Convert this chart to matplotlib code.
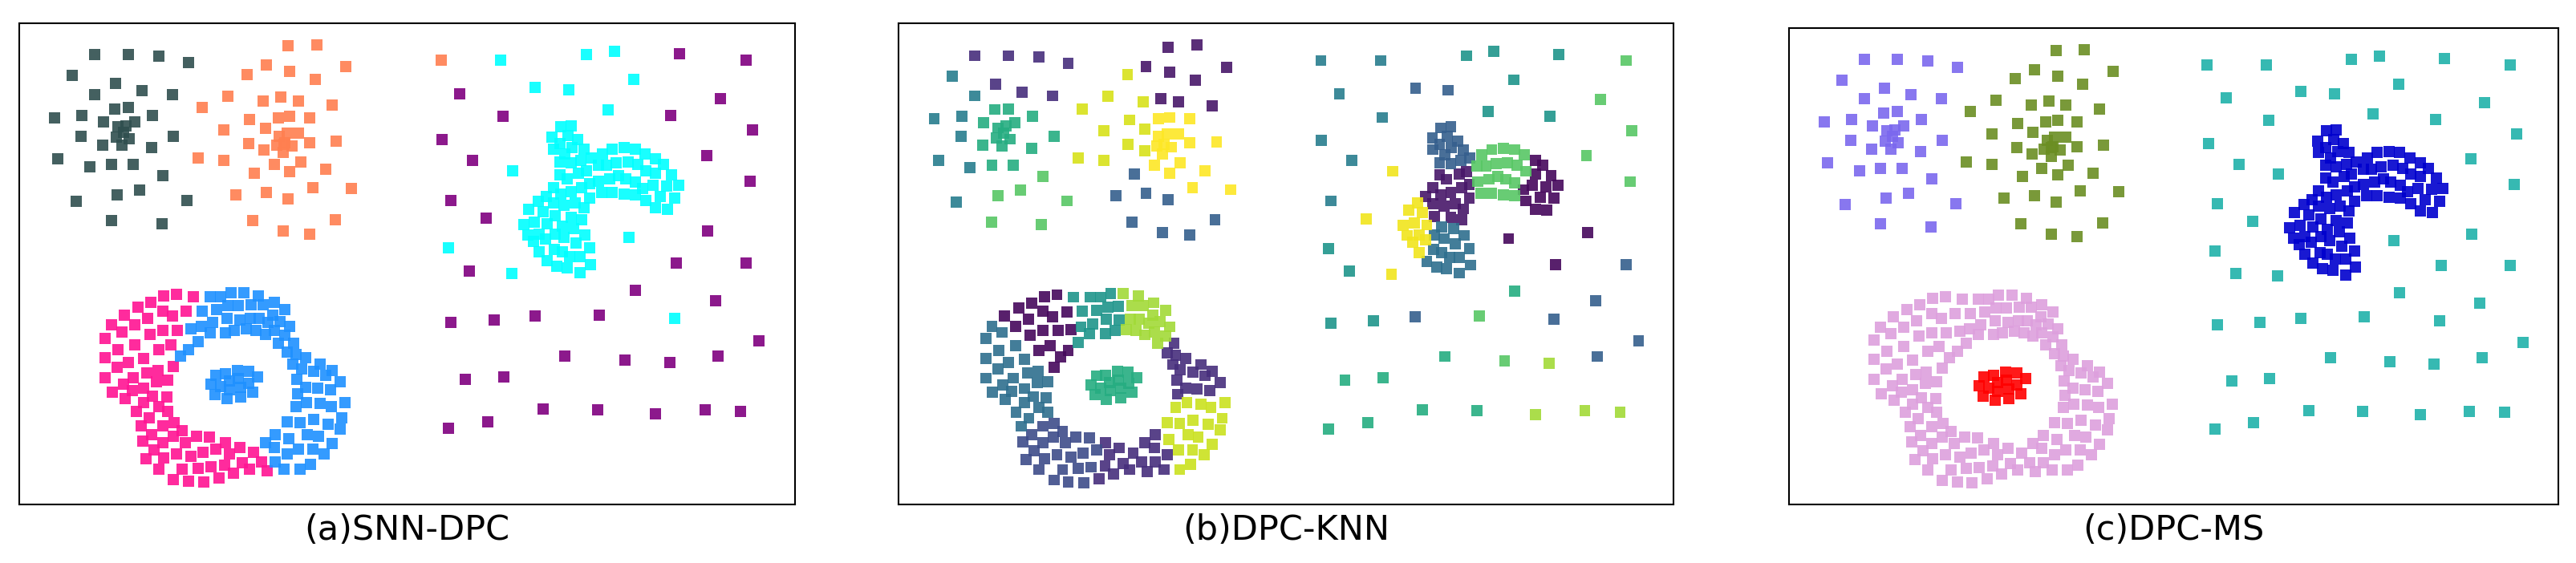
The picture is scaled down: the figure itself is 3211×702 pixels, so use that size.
import numpy as np
import matplotlib
matplotlib.use("Agg")
import matplotlib.pyplot as plt

# ---- shared point groups (panel (a)/(c) scale) ----
blob1 = [(355,205),(481,205),(595,211),(706,235),(271,283),(433,313),(532,340),(355,355),(646,355),(429,409),(481,403),(204,442),(307,433),(571,433),(388,457),(505,457),(442,475),(472,472),(462,496),(436,514),(484,520),(304,510),(649,510),(385,544),(457,544),(568,553),(217,595),(337,625),(418,616),(499,616),(610,658),(439,730),(523,712),(285,754),(700,751),(418,826),(606,838)]
blob2 = [(1078,172),(1185,168),(997,244),(925,279),(1084,268),(1294,250),(1180,298),(853,361),(985,379),(1051,364),(1117,379),(757,403),(1243,394),(934,448),(1041,442),(1084,436),(1159,442),(993,481),(838,486),(1045,510),(1074,499),(1117,499),(931,538),(1035,544),(1066,535),(1093,547),(1159,534),(1258,529),(988,562),(1060,571),(1062,540),(742,592),(838,601),(1026,616),(1126,605),(1218,634),(952,649),(1084,643),(883,730),(997,721),(1078,745),(1169,703),(1314,706),(945,826),(1060,865),(1159,876),(1255,823)]
bg_orange = [(1649,226)]
bg_cyan = [(1873,226),(2194,205),(2299,192),(2371,298),(2002,327),(2128,337),(2275,412),(1918,640),(2353,889),(1678,928),(1915,1024),(2524,1192)]
bg_purple = [(2542,202),(2791,226),(1720,351),(2695,370),(1882,436),(2509,433),(2815,486),(1653,523),(2644,582),(1768,601),(2806,679),(1687,751),(1819,817),(2647,865),(2530,985),(2791,985),(1756,1015),(2375,1087),(2677,1126),(1687,1207),(1849,1198),(2002,1183),(2242,1179),(2839,1276),(2113,1333),(2338,1348),(2505,1357),(2686,1333),(1741,1420),(1885,1411),(2032,1531),(2236,1534),(2452,1549),(2638,1534),(2770,1540),(1825,1579),(1678,1603)]
moon = [(2098,475),(2135,472),(2065,514),(2125,508),(2161,523),(2095,538),(2070,557),(2140,553),(2184,557),(2113,577),(2210,592),(2254,577),(2290,557),(2335,553),(2375,557),(2413,577),(2452,595),(2095,606),(2136,610),(2173,601),(2239,619),(2269,619),(2305,610),(2350,606),(2386,616),(2482,616),(2416,640),(2452,649),(2512,655),(2095,655),(2122,669),(2164,649),(2194,640),(2313,658),(2280,669),(2341,669),(2239,679),(2206,688),(2376,682),(2443,693),(2494,697),(2538,693),(2070,703),(2176,703),(2404,706),(2044,736),(2098,727),(2135,716),(2250,721),(2290,721),(2335,727),(2376,730),(2470,736),(2524,741),(2206,741),(2014,754),(2070,760),(2110,769),(2151,760),(2184,778),(2416,751),(2452,778),(2497,784),(1978,784),(2032,793),(2077,808),(2135,814),(2176,823),(1999,832),(2047,838),(1959,841),(2103,847),(2146,856),(2017,875),(2077,875),(1974,880),(2110,889),(2188,880),(2041,895),(1996,904),(2155,910),(2074,934),(2206,928),(2017,943),(2103,943),(2131,961),(2170,961),(2047,976),(2209,991),(2083,997),(2122,1003),(2170,1021)]
ring_pink = [(613,1107),(661,1102),(724,1111),(565,1131),(517,1150),(610,1165),(697,1165),(466,1179),(646,1183),(553,1192),(418,1216),(505,1216),(457,1242),(610,1237),(664,1237),(562,1252),(394,1266),(505,1290),(638,1290),(442,1309),(595,1309),(394,1338),(538,1342),(481,1357),(439,1375),(649,1371),(590,1387),(550,1396),(499,1414),(394,1414),(628,1423),(586,1429),(462,1438),(538,1453),(495,1462),(421,1468),(571,1483),(625,1486),(469,1492),(538,1507),(595,1520),(510,1540),(628,1540),(558,1564),(529,1594),(610,1594),(652,1582),(682,1612),(568,1627),(649,1631),(735,1631),(783,1636),(535,1651),(610,1656),(694,1656),(844,1656),(897,1675),(808,1680),(577,1684),(760,1693),(661,1699),(859,1699),(949,1693),(715,1708),(613,1714),(547,1717),(979,1729),(907,1732),(841,1741),(790,1747),(742,1752),(595,1756),(682,1756),(934,1756),(1000,1762),(874,1771),(820,1789),(649,1795),(706,1801),(763,1804)]
ring_blue = [(787,1111),(826,1111),(863,1096),(912,1096),(967,1107),(1026,1131),(853,1144),(892,1144),(940,1141),(985,1141),(757,1165),(811,1159),(1066,1159),(1021,1179),(849,1192),(897,1198),(937,1192),(970,1192),(1003,1207),(1048,1204),(796,1207),(754,1222),(715,1231),(1084,1222),(877,1237),(922,1231),(958,1237),(1026,1237),(787,1246),(844,1246),(993,1252),(1066,1255),(742,1279),(1041,1285),(1099,1285),(706,1309),(1074,1318),(1108,1327),(676,1333),(1144,1338),(1096,1362),(1198,1362),(1127,1381),(1243,1387),(1174,1390),(1217,1405),(1111,1420),(1273,1429),(1144,1448),(1189,1453),(1237,1459),(1114,1474),(1147,1507),(1198,1510),(1291,1507),(1108,1521),(1240,1521),(1174,1568),(1279,1564),(1073,1579),(1122,1582),(1228,1588),(1273,1606),(1030,1627),(1150,1627),(1192,1631),(1081,1642),(993,1656),(1243,1660),(1026,1675),(1117,1680),(1169,1680),(1073,1699),(1213,1699),(1030,1729),(1162,1738),(1063,1756),(1122,1756)]
core = [(808,1405),(844,1399),(889,1387),(931,1390),(964,1411),(858,1426),(892,1417),(789,1438),(826,1447),(931,1435),(901,1450),(859,1459),(805,1477),(945,1468),(849,1492),(901,1486)]

# ---- panel (b) clusters: each has a colour value and its points ----
b_values = [0.02, 0.06, 0.13, 0.23, 0.30, 0.36, 0.42, 0.52, 0.62, 0.74, 0.86, 0.92, 0.94, 0.98, 1.0]
b_clusters = [
 [(316,803),(341,798),(291,822),(266,835),(314,846),(360,847),(238,858),(333,862),(285,869),(260,888),(314,901),(343,901),(369,898),(289,914),(328,943),(305,958),(363,958),(348,976),(335,1005),(1276,413),(1291,427),(1276,453),(1307,456),(1321,485),(1270,485),(1297,489),(1253,497),(1257,529),(1286,519),(1312,522),(1276,553),(1298,555),(1224,637),(1379,619),(1316,711)],
 [(558,88),(614,83),(515,144),(562,161),(672,146),(612,183),(544,236),(579,246),(645,257),(1089,455),(1103,467),(1127,452),(1142,445),(1076,492),(1132,492),(1147,482),(1062,517),(1092,511),(1111,504),(1147,522),(1076,537),(1097,544),(1119,537),(1135,552),(1079,574),(1111,577),(1132,584)],
 [(180,113),(246,113),(305,117),(363,135),(221,194),(273,217),(333,228),(570,938),(556,964),(573,972),(592,981),(622,998),(568,998),(582,1013),(645,1017),(607,1020),(630,1030),(660,1049),(576,1042),(592,1065),(615,1068),(640,1072),(577,1083),(533,1200),(513,1223),(436,1223),(531,1237),(463,1237),(490,1252),(444,1256),(556,1256),(470,1281),(506,1278),(533,1278),(435,1289),(483,1299),(550,1299),(517,1304),(452,1311),(423,1326)],
 [(336,1167),(314,1175),(352,1190),(292,1200),(334,1205),(378,1205),(404,1208),(275,1219),(313,1223),(358,1223),(296,1244),(341,1256),(392,1252),(418,1242),(369,1263),(281,1271),(316,1267),(305,1299),(352,1299),(383,1296),(408,1292),(335,1329),(363,1334),(394,1336)],
 [(1092,320),(1111,316),(1075,349),(1104,345),(1124,357),(1089,368),(1076,382),(1112,377),(1135,383),(1099,396),(1089,420),(1111,423),(1130,413),(1148,407),(1042,206),(1106,212),(492,452),(456,515),(515,507),(558,526),(488,589),(547,619),(600,626),(650,584),(1041,861),(1313,869),(1394,816),(1478,931),(1397,975),(1453,711)],
 [(1093,603),(1117,609),(1079,626),(1137,628),(1097,637),(1120,652),(1077,669),(1147,666),(1093,677),(1109,692),(1128,692),(1064,703),(1149,713),(1084,718),(1103,724),(1128,736),(214,888),(234,906),(202,924),(260,943),(227,958),(202,980),(277,983),(246,993),(225,1010),(304,1017),(283,1023),(302,1049),(323,1047),(202,1037),(256,1037),(235,1056),(253,1075),(277,1067),(215,1078),(294,1090),(320,1094),(240,1097),(277,1108),(305,1120),(323,1134),(261,1134),(286,1152),(271,1175)],
 [(857,127),(974,127),(893,223),(977,290),(858,356),(918,414),(876,529),(136,172),(180,228),(155,286),(101,293),(153,345),(109,412),(171,433),(144,533)],
 [(1142,113),(1195,101),(1322,109),(1234,182),(1184,272),(1305,286),(872,666),(912,731),(960,872),(876,879),(373,805),(406,805),(427,805),(446,795),(441,833),(461,832),(390,846),(419,842),(438,869),(463,871),(411,881),(388,890),(405,909),(436,909),(454,901),(383,935)],
 [(219,267),(246,265),(293,286),(198,305),(259,305),(241,315),(226,320),(236,335),(249,352),(223,349),(335,345),(196,370),(234,372),(292,378),(214,426),(256,426),(418,1030),(436,1028),(460,1017),(480,1020),(497,1036),(408,1057),(427,1065),(461,1042),(482,1052),(444,1050),(416,1085),(445,1072),(465,1065),(488,1078),(438,1098),(465,1093),(904,1042),(979,1036),(1056,1127),(1162,1131),(949,1164),(872,1182),(1099,975),(1236,787)],
 [(313,460),(269,499),(225,515),(361,529),(213,589),(311,596),(1172,397),(1191,382),(1214,378),(1236,382),(1255,397),(1162,430),(1180,430),(1199,423),(1222,419),(1240,426),(1257,444),(1164,474),(1185,467),(1203,460),(1218,467),(1236,478),(1170,507),(1191,507),(1214,511),(1236,515),(1453,127),(1404,239),(1465,327),(1376,400),(1461,474),(1216,987),(1166,858)],
 [(471,795),(500,802),(530,821),(487,828),(510,828),(553,843),(529,857),(485,868),(502,868),(520,880),(543,875),(562,890),(477,898),(496,901),(513,913),(531,905),(553,916),(538,938),(1276,1141),(1373,1130),(1442,1135),(1303,994)],
 [(573,1120),(595,1108),(622,1112),(642,1120),(670,1108),(664,1152),(556,1164),(581,1167),(607,1157),(637,1170),(660,1186),(597,1200),(617,1205),(560,1212),(645,1226),(579,1242),(606,1242),(629,1256),(602,1285),(581,1299)],
 [(479,168),(440,230),(510,246),(391,265),(483,297),(513,323),(433,327),(480,367),(383,407),(433,414),(512,385)],
 [(1046,534),(1028,555),(1056,563),(1018,600),(1040,592),(1064,598),(1026,628),(1049,626),(1061,640),(1037,648),(1049,677),(997,444),(945,581),(995,740)],
 [(539,293),(562,290),(600,293),(556,338),(540,345),(579,338),(653,360),(600,363),(536,371),(550,368),(565,375),(547,395),(531,426),(582,419),(630,442),(562,449),(606,492),(681,497)],
]

panel_a = [(blob1,'#2f4f4f'),(blob2,'#ff7f50'),(bg_orange,'#ff7f50'),(bg_cyan,'#00ffff'),(moon,'#00ffff'),
           (bg_purple,'#800080'),(ring_pink,'#ff1493'),(ring_blue,'#1e90ff'),(core,'#1e90ff')]
panel_c = [(blob1,'#7b68ee'),(blob2,'#6b8e23'),(bg_orange,'#20b2aa'),(bg_cyan,'#20b2aa'),(bg_purple,'#20b2aa'),
           (moon,'#0000cd'),(ring_pink,'#dda0dd'),(ring_blue,'#dda0dd'),(core,'#ff0000')]
titles = ['(a)SNN-DPC', '(b)DPC-KNN', '(c)DPC-MS']

W, H = 3212, 702
fig = plt.figure(figsize=(W/100, H/100), dpi=100)

def add_axes(l, r, t, b, xlim, ylim, title):
    ax = fig.add_axes([l/W, 1-b/H, (r-l)/W, (b-t)/H])
    ax.set_xlim(*xlim); ax.set_ylim(*ylim)
    ax.set_xticks([]); ax.set_yticks([])
    for s in ax.spines.values():
        s.set_linewidth(1.5)
    ax.set_xlabel(title, fontsize=31, labelpad=8)
    return ax

MS = 100
AL = 0.9
lim_x, lim_y = (72, 2973), (1887, 87)

ax = add_axes(24, 991, 29, 629, lim_x, lim_y, titles[0])
for pts, col in panel_a:
    p = np.array(pts)
    ax.scatter(p[:,0], p[:,1], s=MS, marker='s', c=col, alpha=AL, linewidths=0)

ax = add_axes(1120.5, 2086.5, 29, 629, (32, 1547), (1399, 20), titles[1])
for val, pts in zip(b_values, b_clusters):
    p = np.array(pts)
    ax.scatter(p[:,0], p[:,1], s=MS, marker='s', c=[val]*len(p), cmap='viridis', vmin=0, vmax=1, alpha=AL, linewidths=0)

ax = add_axes(2230, 3189, 35, 629, lim_x, lim_y, titles[2])
for pts, col in panel_c:
    p = np.array(pts)
    ax.scatter(p[:,0], p[:,1], s=MS, marker='s', c=col, alpha=AL, linewidths=0)

fig.savefig('out.png', dpi=100)
